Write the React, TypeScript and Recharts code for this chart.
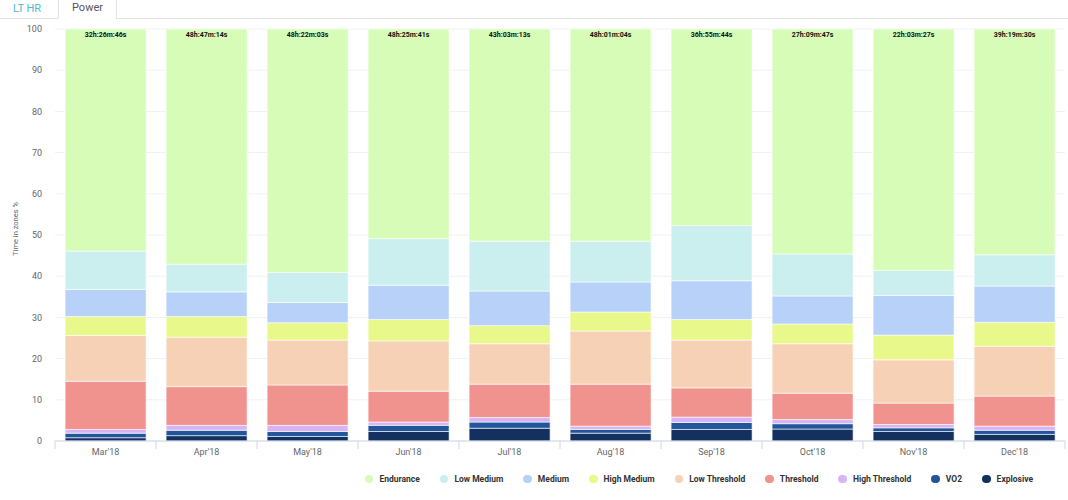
import { BarChart, Bar, XAxis, YAxis, CartesianGrid, Legend, LabelList, Label } from 'recharts'

const W = 1068
const H = 500
const PLOT_LEFT = 55
const PLOT_RIGHT = 3
const PLOT_W = W - PLOT_LEFT - PLOT_RIGHT

const months = ["Mar'18", "Apr'18", "May'18", "Jun'18", "Jul'18", "Aug'18", "Sep'18", "Oct'18", "Nov'18", "Dec'18"]
const totals = ['32h:26m:46s', '48h:47m:14s', '48h:22m:03s', '48h:25m:41s', '43h:03m:13s', '48h:01m:04s', '36h:55m:44s', '27h:09m:47s', '22h:03m:27s', '39h:19m:30s']
const yTicks = [0, 10, 20, 30, 40, 50, 60, 70, 80, 90, 100]

// % of time per zone, bottom of the stack first
const explosive = [0.8, 1.3, 1.1, 2.3, 3.1, 1.9, 2.8, 2.9, 2.3, 1.6]
const vo2 = [1.1, 1.3, 1.2, 1.5, 1.5, 0.9, 1.7, 1.3, 0.9, 1.0]
const highThreshold = [0.9, 1.2, 1.5, 0.8, 1.1, 0.8, 1.3, 1.0, 0.8, 1.0]
const threshold = [11.7, 9.4, 9.8, 7.5, 8.1, 10.2, 7.1, 6.4, 5.2, 7.3]
const lowThreshold = [11.1, 12.0, 10.9, 12.2, 9.8, 12.9, 11.6, 12.0, 10.5, 12.1]
const highMedium = [4.6, 5.0, 4.2, 5.2, 4.4, 4.6, 5.0, 4.8, 6.0, 5.8]
const medium = [6.6, 6.0, 4.9, 8.3, 8.4, 7.3, 9.4, 6.8, 9.6, 8.8]
const lowMedium = [9.3, 6.7, 7.3, 11.3, 12.1, 9.9, 13.4, 10.2, 6.1, 7.6]
const endurance = [53.9, 57.1, 59.1, 50.9, 51.5, 51.5, 47.7, 54.6, 58.6, 54.8]

const series = [
  { key: 'explosive', name: 'Explosive', color: '#14305f', values: explosive },
  { key: 'vo2', name: 'VO2', color: '#22569a', values: vo2 },
  { key: 'highThreshold', name: 'High Threshold', color: '#d8b4f6', values: highThreshold },
  { key: 'threshold', name: 'Threshold', color: '#f0928e', values: threshold },
  { key: 'lowThreshold', name: 'Low Threshold', color: '#f6d1b5', values: lowThreshold },
  { key: 'highMedium', name: 'High Medium', color: '#e9f88a', values: highMedium },
  { key: 'medium', name: 'Medium', color: '#b8d1f8', values: medium },
  { key: 'lowMedium', name: 'Low Medium', color: '#caefee', values: lowMedium },
  { key: 'endurance', name: 'Endurance', color: '#d6fcb8', values: endurance },
]

const rows = months.map((m, i) => {
  const r: Record<string, string | number> = { month: m, total: totals[i] }
  series.forEach((s) => {
    r[s.key] = s.values[i]
  })
  return r
})

const FONT = 'Roboto, "Helvetica Neue", Arial, sans-serif'

function MonthTick(props: any) {
  const { x, y, payload, index } = props
  const band = PLOT_W / months.length
  return (
    <g>
      <line x1={x - band / 2} x2={x - band / 2} y1={y} y2={y + 8} stroke="#ccd6eb" />
      {index === months.length - 1 && (
        <line x1={x + band / 2} x2={x + band / 2} y1={y} y2={y + 8} stroke="#ccd6eb" />
      )}
      <text x={x} y={y + 14} textAnchor="middle" fontSize={9} fill="#666" fontFamily={FONT}>
        {payload.value}
      </text>
    </g>
  )
}

function TotalLabel(props: any) {
  const { x, y, width, value } = props
  return (
    <text
      x={x + width / 2}
      y={y + 6}
      textAnchor="middle"
      dominantBaseline="central"
      fontSize={7}
      fontWeight={700}
      fill="#111"
      fontFamily={FONT}
    >
      {value}
    </text>
  )
}

function YTitle(props: any) {
  const vb = props.viewBox || { x: 0, y: 0, height: 0 }
  const cx = 15
  const cy = vb.y + vb.height / 2 - 6
  return (
    <text
      x={cx}
      y={cy}
      transform={`rotate(-90 ${cx} ${cy})`}
      textAnchor="middle"
      dominantBaseline="central"
      fontSize={7.5}
      fill="#666"
      fontFamily={FONT}
    >
      Time in zones %
    </text>
  )
}

function ZoneLegend() {
  const items = [...series].reverse()
  return (
    <div
      style={{
        display: 'flex',
        justifyContent: 'flex-end',
        alignItems: 'center',
        gap: 20,
        paddingRight: 32,
        paddingTop: 6,
        height: 14,
        fontFamily: FONT,
      }}
    >
      {items.map((s) => (
        <div key={s.key} style={{ display: 'flex', alignItems: 'center' }}>
          <span
            style={{
              width: 8.5,
              height: 8.5,
              borderRadius: '50%',
              background: s.color,
              display: 'inline-block',
              marginRight: 6,
            }}
          />
          <span style={{ fontSize: 8.5, fontWeight: 700, color: '#333', lineHeight: '14px' }}>{s.name}</span>
        </div>
      ))}
    </div>
  )
}

export default function App() {
  return (
    <div style={{ position: 'absolute', left: 0, top: 0, width: W, height: H, background: '#fff', fontFamily: FONT }}>
      {/* tabs */}
      <div style={{ position: 'absolute', left: 0, top: 18, width: W, height: 1, background: '#e3e3e3' }} />
      <div
        style={{
          position: 'absolute',
          left: 13,
          top: 0,
          height: 17,
          lineHeight: '17px',
          fontSize: 11,
          color: '#4fb8c9',
        }}
      >
        LT HR
      </div>
      <div
        style={{
          position: 'absolute',
          left: 58,
          top: -2,
          width: 57,
          height: 21,
          borderLeft: '1px solid #e3e3e3',
          borderRight: '1px solid #e3e3e3',
          background: '#fff',
          textAlign: 'center',
          lineHeight: '20px',
          fontSize: 11,
          color: '#555',
        }}
      >
        Power
      </div>

      <div style={{ position: 'absolute', left: 0, top: 0 }}>
        <BarChart
          width={W}
          height={H}
          data={rows}
          margin={{ top: 29, right: PLOT_RIGHT, bottom: 0, left: 0 }}
          barCategoryGap="10%"
        >
          <CartesianGrid vertical={false} stroke="#eef1f4" />
          <XAxis
            dataKey="month"
            interval={0}
            height={25}
            tickLine={false}
            tickSize={0}
            tickMargin={0}
            axisLine={{ stroke: '#ccd6eb' }}
            tick={<MonthTick />}
          />
          <YAxis
            width={PLOT_LEFT}
            domain={[0, 100]}
            ticks={yTicks}
            axisLine={false}
            tickLine={false}
            tickMargin={7}
            tick={{ fontSize: 9, fill: '#666', fontFamily: FONT }}
          >
            <Label content={<YTitle />} />
          </YAxis>
          <Legend verticalAlign="bottom" height={34} content={<ZoneLegend />} />
          {series.map((s) => (
            <Bar
              key={s.key}
              dataKey={s.key}
              name={s.name}
              stackId="zones"
              fill={s.color}
              stroke="#ffffff"
              strokeWidth={0.6}
              isAnimationActive={false}
            >
              {s.key === 'endurance' && <LabelList dataKey="total" content={<TotalLabel />} />}
            </Bar>
          ))}
        </BarChart>
      </div>
    </div>
  )
}
